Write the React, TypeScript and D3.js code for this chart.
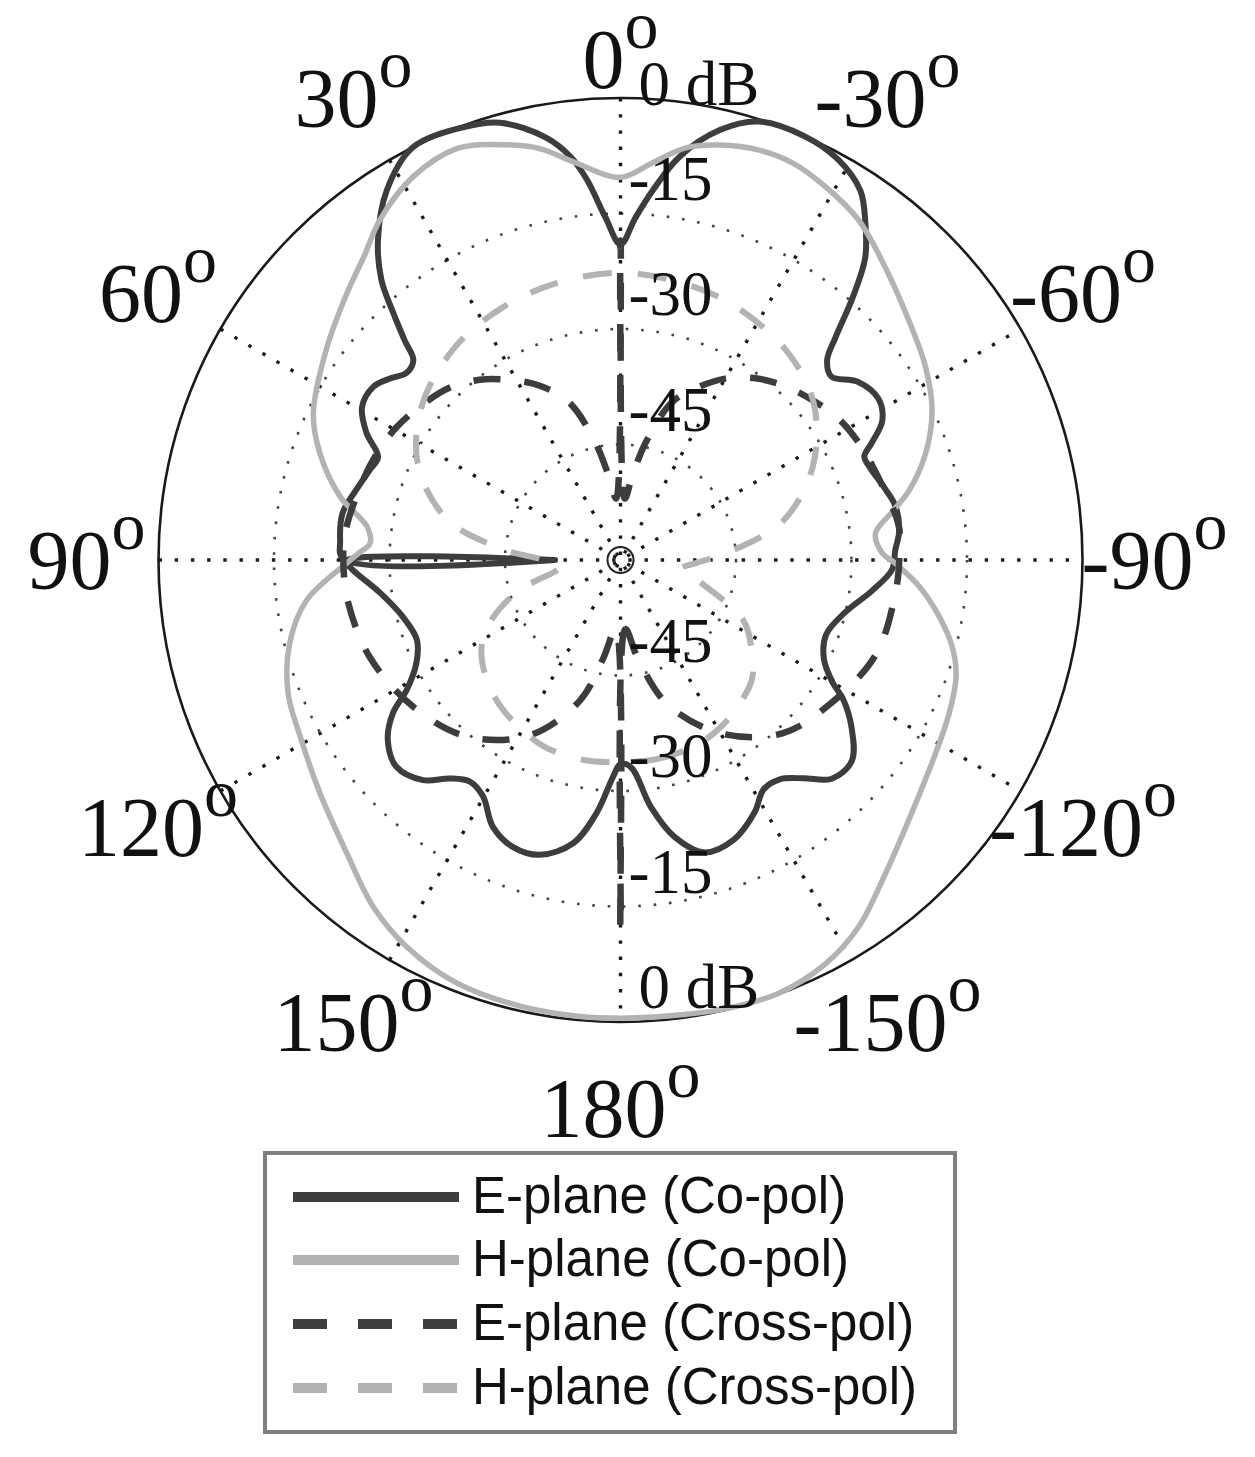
import React, { useEffect, useRef } from 'react';
import * as d3 from 'd3';

// Angles in degrees (0 = top, positive = counter-clockwise), values in dB

const ePlaneCoAngles = [-180, -177, -173, -169, -164, -158, -152, -148, -144, -140, -136, -131, -126, -122, -120, -116, -110, -103, -97, -92, -88, -84, -79, -75, -70, -67, -65, -62, -58, -53, -49, -46, -44, -41.5, -39, -36, -33, -28.5, -23.5, -17.5, -13, -8.3, -5, -2.5, 0, 2.5, 5, 7, 10, 15.4, 20, 26.7, 32.3, 37.2, 40.5, 42.6, 44.5, 46, 48.8, 52, 55, 59.4, 63.4, 67, 70.2, 75.1, 80.4, 86, 89.8, 90, 90.2, 92.1, 97.8, 104.7, 111.4, 116.8, 121.3, 123.9, 127.7, 132.7, 138.1, 142, 145.8, 149.8, 154.4, 159.4, 164.7, 170.5, 174.6, 178];
const ePlaneCoDb = [-33.5, -33, -27.7, -23.4, -20.5, -20.8, -22.9, -24.9, -24.8, -23, -20.5, -20.2, -22.9, -25.9, -28.2, -30.6, -31.6, -30, -27.1, -24.7, -24.3, -23.6, -23.6, -24.4, -25.4, -25.6, -24, -21.5, -20.5, -21.5, -23.7, -22.7, -19.8, -14.5, -9.5, -5.9, -2.8, -0.8, 0, -0.3, -2.7, -7.1, -11.8, -15.5, -19, -15.5, -10.5, -7.3, -4.3, -1.1, -0.2, 0, -3.2, -7.9, -12.2, -16.4, -20, -22.6, -23.1, -21.8, -20.8, -21, -23.1, -25.8, -25.4, -24.5, -23.4, -23.5, -24, -51.5, -24.3, -25.2, -28.5, -30.8, -31.6, -30.3, -27.5, -24.4, -21.8, -20.4, -21.6, -24, -25.2, -24.5, -21.6, -20.2, -20.3, -22.7, -27, -31.8];

const hPlaneCoAngles = [-180, -176, -168, -160, -153, -147, -140, -131, -121.5, -115, -109, -104.6, -100, -95, -90.7, -88.5, -84, -80, -76.4, -70.7, -64.3, -57.6, -50.2, -42, -35, -28.8, -23.4, -18.7, -13.4, -9, -4.5, 0, 6.8, 11, 15.3, 21.7, 28.4, 35.3, 40, 45.8, 54, 64.5, 70.5, 77.3, 82.5, 86.2, 88.5, 90.7, 97.3, 104.1, 111.8, 118.9, 127.8, 137, 144.5, 151.1, 158.8, 167.7, 175];
const hPlaneCoDb = [-0.5, -0.5, -0.2, -0.1, -1.2, -3.2, -6.6, -9.9, -12, -12.9, -13.9, -15.5, -18, -21.1, -24.3, -26, -26.7, -24.2, -21.4, -18, -15.1, -13.1, -11.3, -8.7, -6.1, -4.7, -3.8, -3.8, -4.6, -5.8, -8.3, -10.3, -7.9, -5.6, -4.1, -2.5, -3.4, -5.9, -8.3, -10.4, -12.9, -15.8, -18.6, -22.7, -26.8, -27.4, -26, -24.4, -18.9, -15.7, -13.5, -12.5, -10.6, -7.9, -4.7, -2.6, -1.1, -0.6, -0.5];

const eCrossAngles = [-180, -176, -170, -162, -150, -137, -124, -110, -96, -90, -83, -70.5, -64, -57.5, -51, -44, -37, -30, -24, -18, -12, -8, -4, 0, 4, 8, 12, 18, 25, 31.5, 38, 44.7, 52, 59.2, 66, 72.7, 83.8, 90, 98.8, 111.4, 125.8, 139.3, 152.7, 163.9, 170, 176];
const eCrossDb = [-12, -51, -47, -40.3, -34, -29.2, -26.9, -24.6, -24, -23.8, -23.6, -25, -25.5, -26.2, -27.4, -28.8, -30.5, -32.8, -35.5, -38.5, -44.5, -49, -52, -18.5, -52, -49, -44.5, -38.5, -35, -32.6, -30.3, -28.5, -27.3, -26.2, -25.5, -25, -24.1, -24, -24.2, -25.1, -27.1, -29.7, -34.4, -41, -47, -51];

const hCrossAngles = [-180, -170, -158, -149, -140, -132, -124, -116, -104.6, -98, -92, -86, -76.5, -64, -51, -39, -25, -14, 0, 13, 25, 38, 52, 65, 77, 85, 90, 97, 104, 107, 114, 121, 130, 140, 150, 158, 170];
const hCrossDb = [-33.8, -33.7, -34, -34.7, -35.8, -37, -39.5, -42.3, -49.7, -52, -50, -46, -38.3, -32.2, -27.7, -25.4, -23.9, -23.2, -22.7, -23.1, -23.8, -25, -27.3, -31, -37, -45, -50, -52, -48.5, -46, -42, -39, -37, -35.5, -34.5, -33.8, -33.6];

const ringValues = [-45, -30, -15, 0];
const ringLabels = ['-45', '-30', '-15', '0 dB'];
const spokeAngles = [0, 30, 60, 90, 120, 150];
const angleTicks = [0, 30, 60, 90, 120, 150, 180, -150, -120, -90, -60, -30];
const legendLabels = ['E-plane (Co-pol)', 'H-plane (Co-pol)', 'E-plane (Cross-pol)', 'H-plane (Cross-pol)'];

const DARK = '#3d3d3d';
const LIGHT = '#b3b3b3';
const SERIF = "'Liberation Serif', 'Times New Roman', serif";
const SANS = "'Liberation Sans', Arial, sans-serif";

const PolarPatternChart: React.FC = () => {
  const svgRef = useRef<SVGSVGElement>(null);

  useEffect(() => {
    if (!svgRef.current) return;
    d3.select(svgRef.current).selectAll('*').remove();

    const cx = 620.5;
    const cy = 560;
    const R = 462;

    const svg = d3.select(svgRef.current);
    svg.append('rect').attr('width', 1255).attr('height', 1457).attr('fill', '#fff');

    const rScale = d3.scaleLinear().domain([-60, 0]).range([0, R]).clamp(true);
    const rad = (deg: number) => (deg * Math.PI) / 180;

    const g = svg.append('g').attr('transform', `translate(${cx},${cy})`);

    // dotted rings
    g.selectAll('.ring')
      .data(ringValues.filter(v => v < 0))
      .enter().append('circle')
      .attr('r', d => rScale(d))
      .attr('fill', 'none')
      .attr('stroke', '#444')
      .attr('stroke-width', 2.6)
      .attr('stroke-dasharray', '2.6 12.8');

    // spokes
    g.selectAll('.spoke')
      .data(spokeAngles)
      .enter().append('line')
      .attr('x1', d => -R * Math.sin(rad(d)))
      .attr('y1', d => -R * Math.cos(rad(d)))
      .attr('x2', d => R * Math.sin(rad(d)))
      .attr('y2', d => R * Math.cos(rad(d)))
      .attr('stroke', '#1a1a1a')
      .attr('stroke-width', 3.4)
      .attr('stroke-dasharray', '3.4 12.8');

    // outer circle and centre mark
    g.append('circle').attr('r', R).attr('fill', 'none').attr('stroke', '#1a1a1a').attr('stroke-width', 2.6);
    g.append('circle').attr('r', 13).attr('fill', 'none').attr('stroke', '#222').attr('stroke-width', 2);

    // curves
    const line = d3.lineRadial<[number, number]>()
      .angle(d => -rad(d[0]))
      .radius(d => rScale(d[1]))
      .curve(d3.curveCatmullRomClosed.alpha(0.5));

    const series = [
      { pts: d3.zip(ePlaneCoAngles, ePlaneCoDb), color: DARK, width: 6, dash: null },
      { pts: d3.zip(hPlaneCoAngles, hPlaneCoDb), color: LIGHT, width: 5.5, dash: null },
      { pts: d3.zip(eCrossAngles, eCrossDb), color: DARK, width: 6.5, dash: '27 24' },
      { pts: d3.zip(hCrossAngles, hCrossDb), color: LIGHT, width: 6, dash: '29 26' }
    ];

    series.forEach(s => {
      g.append('path')
        .attr('d', line(s.pts as [number, number][]) || '')
        .attr('fill', 'none')
        .attr('stroke', s.color)
        .attr('stroke-width', s.width)
        .attr('stroke-linejoin', 'round')
        .attr('stroke-dasharray', s.dash);
    });

    // ring labels (top and bottom of vertical axis)
    ringValues.forEach((v, i) => {
      const r = rScale(v);
      const label = ringLabels[i];
      const x = label.startsWith('-') ? 8 : 18;
      const topY = v === 0 ? -r + 7 : -r - 14;
      [topY, r - 14].forEach(y => {
        g.append('text')
          .attr('x', x)
          .attr('y', y)
          .style('font-family', SERIF)
          .style('font-size', '63px')
          .style('fill', '#111')
          .text(label);
      });
    });

    // angle labels
    angleTicks.forEach(a => {
      const L = a === 0 ? 501 : a === 180 ? 548 : 534;
      const x = -L * Math.sin(rad(a));
      const y = -L * Math.cos(rad(a));
      const t = g.append('text')
        .attr('x', x)
        .attr('y', y + 29)
        .attr('text-anchor', 'middle')
        .style('font-family', SERIF)
        .style('font-size', '84px')
        .style('fill', '#111');
      t.append('tspan').text(`${a}`);
      t.append('tspan').attr('dy', -40).style('font-size', '68px').text('o');
    });

    // legend
    const legend = svg.append('g');
    legend.append('rect')
      .attr('x', 265).attr('y', 1153)
      .attr('width', 690).attr('height', 279)
      .attr('fill', '#fff')
      .attr('stroke', '#808080')
      .attr('stroke-width', 4);

    const rowY = [1197, 1260, 1324, 1388];
    legendLabels.forEach((label, i) => {
      const s = series[i];
      legend.append('line')
        .attr('x1', 293).attr('x2', 459)
        .attr('y1', rowY[i]).attr('y2', rowY[i])
        .attr('stroke', s.color)
        .attr('stroke-width', 10)
        .attr('stroke-dasharray', s.dash ? '34 31' : null);
      legend.append('text')
        .attr('x', 472)
        .attr('y', rowY[i] + 16)
        .style('font-family', SANS)
        .style('font-size', '51px')
        .style('fill', '#111')
        .text(label);
    });
  }, []);

  return (
    <svg
      ref={svgRef}
      width={1255}
      height={1457}
      style={{ position: 'absolute', left: 0, top: 0 }}
    />
  );
};

export default function App() {
  return <PolarPatternChart />;
}
